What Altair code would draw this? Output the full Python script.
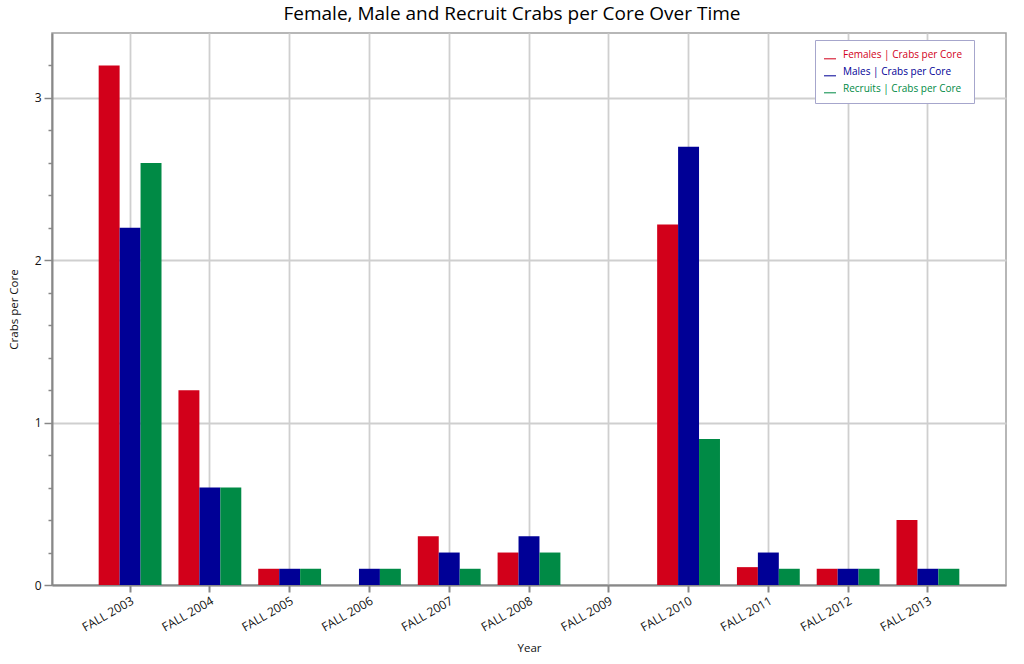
import altair as alt
import pandas as pd

years = ["FALL 2003", "FALL 2004", "FALL 2005", "FALL 2006", "FALL 2007", "FALL 2008",
         "FALL 2009", "FALL 2010", "FALL 2011", "FALL 2012", "FALL 2013"]
females = [3.2, 1.2, 0.1, 0.0, 0.3, 0.2, 0.0, 2.22, 0.11, 0.1, 0.4]
males = [2.2, 0.6, 0.1, 0.1, 0.2, 0.3, 0.0, 2.7, 0.2, 0.1, 0.1]
recruits = [2.6, 0.6, 0.1, 0.1, 0.1, 0.2, 0.0, 0.9, 0.1, 0.1, 0.1]
series_names = ["Females  | Crabs per Core", "Males | Crabs per Core", "Recruits | Crabs per Core"]
colors = ["#d2001a", "#000096", "#008a45"]
y_tick_values = [0, 0.2, 0.4, 0.6, 0.8, 1, 1.2, 1.4, 1.6, 1.8, 2, 2.2, 2.4, 2.6, 2.8, 3, 3.2]

rows = []
for name, vals in zip(series_names, [females, males, recruits]):
    for yr, v in zip(years, vals):
        rows.append({"year": yr, "series": name, "value": v})
df = pd.DataFrame(rows)

FONT = "Open Sans"
is_major = "abs(datum.value - round(datum.value)) < 0.001"

chart = alt.Chart(df).mark_bar().encode(
    x=alt.X("year:N", sort=years,
            scale=alt.Scale(paddingInner=0.2125, paddingOuter=0.585),
            axis=alt.Axis(title="Year", labelAngle=330, labelAlign="right", labelBaseline="top",
                          grid=True, gridColor="#cfcfcf", gridWidth=1.8,
                          tickSize=7, tickColor="#888888", tickWidth=2,
                          labelPadding=3, titlePadding=10, labelFontSize=12,
                          domainColor="#888888", domainWidth=2)),
    xOffset=alt.XOffset("series:N", sort=series_names,
                        scale=alt.Scale(paddingInner=0, paddingOuter=0)),
    y=alt.Y("value:Q", scale=alt.Scale(domain=[0, 3.4], nice=False, zero=True),
            axis=alt.Axis(title="Crabs per Core", values=y_tick_values,
                          labelExpr=f"({is_major}) ? format(datum.value, 'd') : ''",
                          grid=True, gridColor="#cfcfcf", gridWidth=1.8,
                          gridOpacity={"condition": {"test": is_major, "value": 1}, "value": 0},
                          tickSize={"condition": {"test": is_major, "value": 8}, "value": 4},
                          tickColor="#888888", tickWidth=1.5,
                          labelPadding=3, titlePadding=15, labelFontSize=12,
                          domainColor="#888888", domainWidth=2)),
    color=alt.Color("series:N", sort=series_names,
                    scale=alt.Scale(domain=series_names, range=colors),
                    legend=alt.Legend(title=None, orient="none", legendX=763, legendY=7,
                                      symbolType="M-1,0.55 L1,0.55 L1,0.72 L-1,0.72 Z",
                                      symbolSize=144, symbolStrokeWidth=0,
                                      labelFontSize=10, labelFont=FONT,
                                      labelColor=alt.ExprRef(
                                          "indexof(datum.label, 'Females') >= 0 ? '#d2001a' : "
                                          "(indexof(datum.label, 'Males') >= 0 ? '#000096' : '#008a45')"),
                                      strokeColor="#a6a6cc", fillColor="white",
                                      padding=9, rowPadding=6, labelOffset=7)),
).properties(
    width=954, height=552,
    title=alt.TitleParams("Female, Male and Recruit Crabs per Core Over Time",
                          fontSize=19, font=FONT, fontWeight="normal", color="black",
                          anchor="middle", offset=9, dx=-17),
    autosize=alt.AutoSizeParams(type="none"),
    padding={"left": 52, "top": 33, "right": 18, "bottom": 79},
).configure(
    background="white"
).configure_view(
    stroke="#a0a0a0", strokeWidth=1.5
).configure_axis(
    labelFont=FONT, titleFont=FONT, labelFontSize=11, titleFontSize=11.5,
    labelColor="#111111", titleColor="#111111", titleFontWeight="normal"
)

chart.save("out.html", embed_options={"renderer": "svg", "actions": False})
